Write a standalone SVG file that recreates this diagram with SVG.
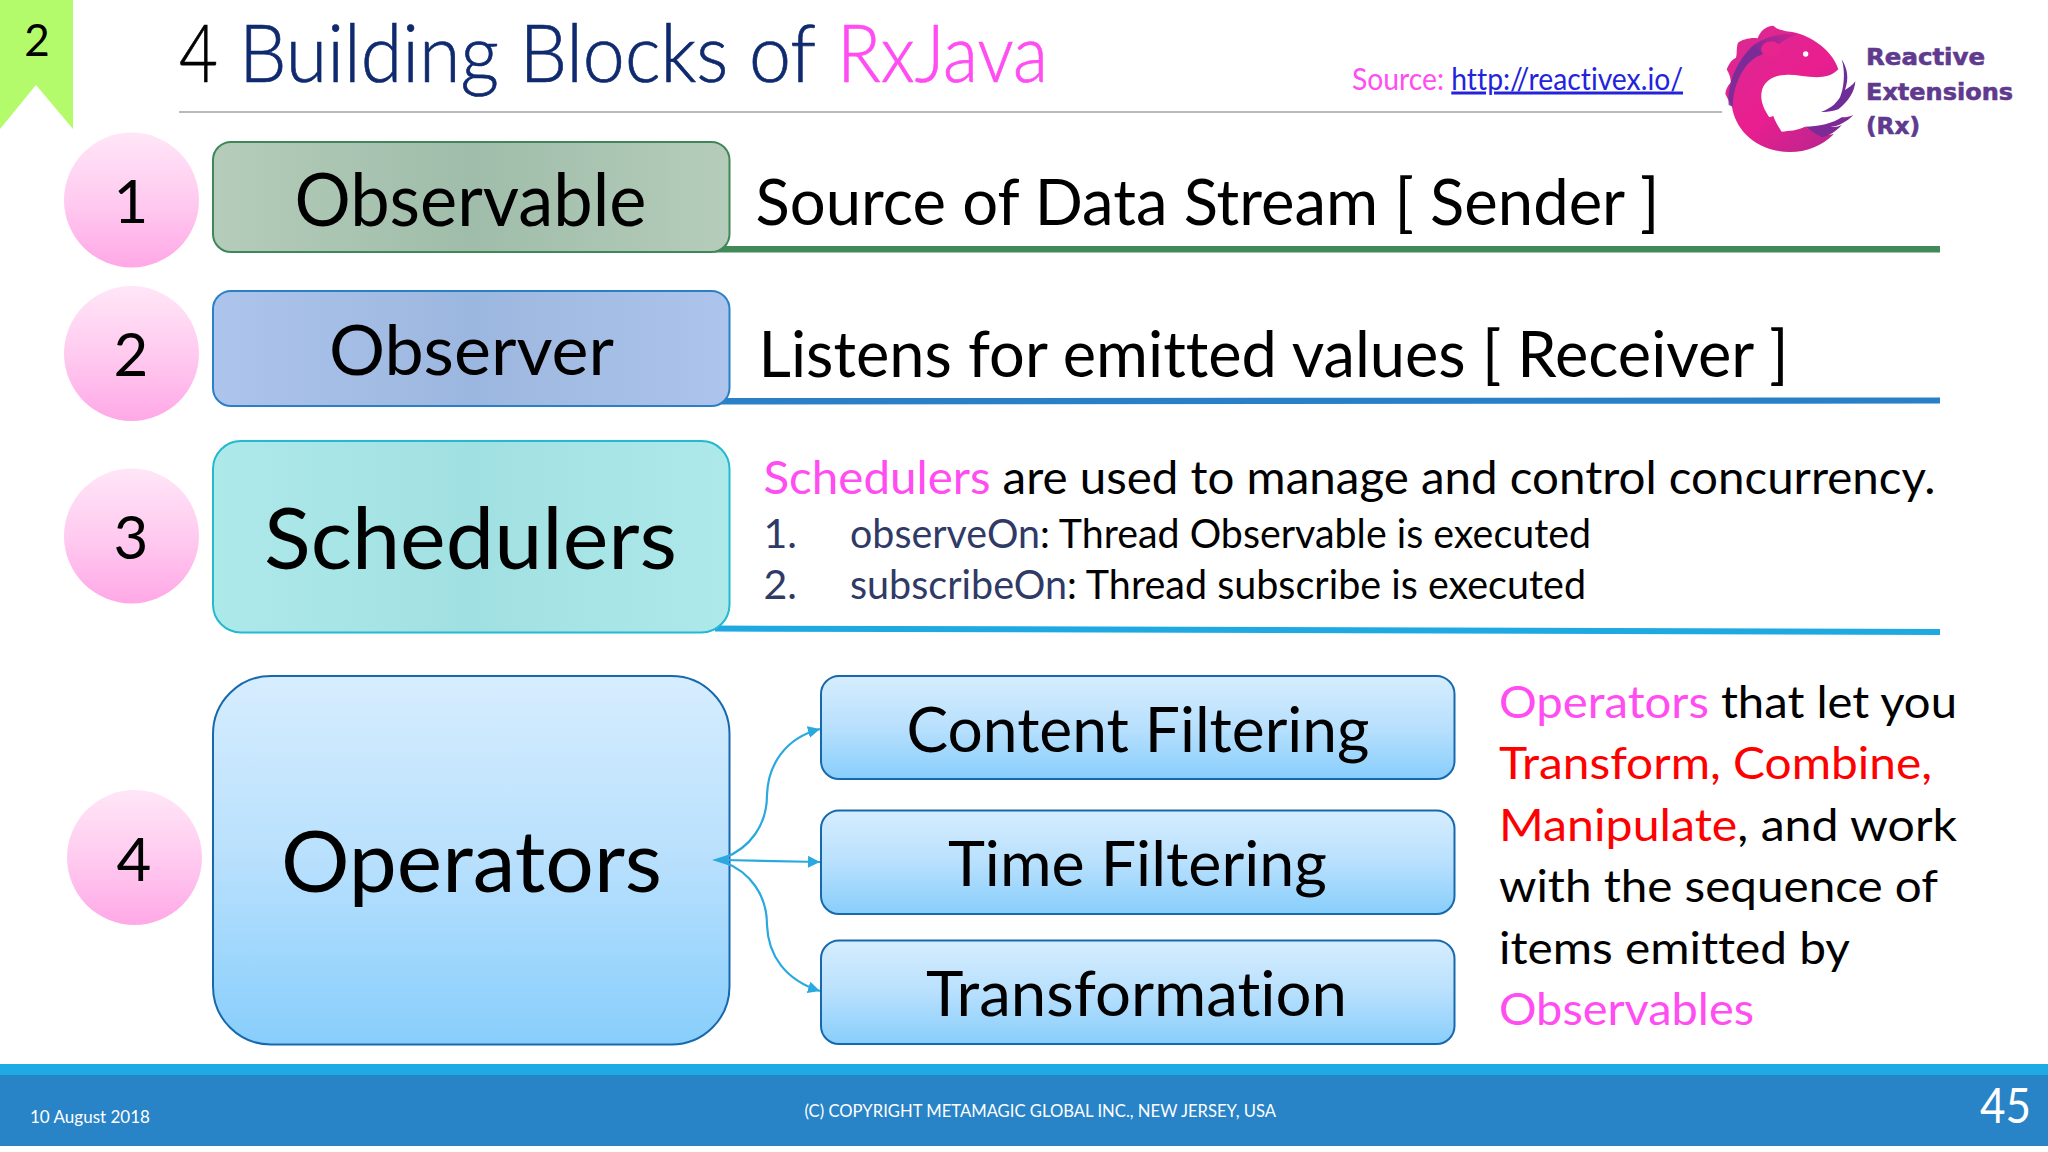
<svg xmlns="http://www.w3.org/2000/svg" width="2048" height="1152" viewBox="0 0 2048 1152">
<style>
text{font-family:"Lato","Noto Sans","Liberation Sans",sans-serif;fill:#000;font-variant-ligatures:none}
.c{text-anchor:middle}
.mg{fill:#ff4df2}
.rd{fill:#ff0000}
.nv{fill:#2f3a66}
.num{font-size:60px}
.lbl{font-size:64px}
.sub{font-size:44px}
.sm{font-size:41px}
.box{font-size:62px}
.rx{font-family:"DejaVu Sans",sans-serif;font-weight:bold;font-size:23px;fill:#5f3a8e;stroke:#5f3a8e;stroke-width:.6}
.conn{fill:none;stroke:#2aa8e0;stroke-width:2.2}
.circ{stroke:none}
</style>
<defs>
<linearGradient id="pk" x1="0" y1="0" x2="0" y2="1"><stop offset="0" stop-color="#ffe6f7"/><stop offset=".55" stop-color="#ffc8ef"/><stop offset="1" stop-color="#ffa8e6"/></linearGradient>
<linearGradient id="gr" x1="0" y1="0" x2="1" y2="0"><stop offset="0" stop-color="#b5ccba"/><stop offset=".5" stop-color="#9fbdaa"/><stop offset="1" stop-color="#b5ccba"/></linearGradient>
<linearGradient id="bl" x1="0" y1="0" x2="1" y2="0"><stop offset="0" stop-color="#adc4ec"/><stop offset=".5" stop-color="#9cb7df"/><stop offset="1" stop-color="#adc4ec"/></linearGradient>
<linearGradient id="te" x1="0" y1="0" x2="1" y2="0"><stop offset="0" stop-color="#aee9ea"/><stop offset=".5" stop-color="#a1e0e2"/><stop offset="1" stop-color="#aee9ea"/></linearGradient>
<linearGradient id="sk" x1="0" y1="0" x2="0" y2="1"><stop offset="0" stop-color="#d6edfe"/><stop offset=".5" stop-color="#b8e0fd"/><stop offset="1" stop-color="#88cefc"/></linearGradient>
<linearGradient id="rxg" gradientUnits="userSpaceOnUse" x1="60" y1="60" x2="380" y2="400"><stop offset="0" stop-color="#d92a93"/><stop offset=".55" stop-color="#ea1e8f"/><stop offset="1" stop-color="#b8258f"/></linearGradient>
<linearGradient id="rxp" gradientUnits="userSpaceOnUse" x1="60" y1="300" x2="260" y2="60"><stop offset="0" stop-color="#6f2d98" stop-opacity=".85"/><stop offset=".6" stop-color="#7a2b97"/><stop offset="1" stop-color="#c4218f" stop-opacity=".6"/></linearGradient>
<marker id="ah" viewBox="0 0 12 12" refX="12" refY="6" markerWidth="12" markerHeight="12" markerUnits="userSpaceOnUse" orient="auto"><path d="M0,0L12,6L0,12Z" fill="#2aa8e0"/></marker>
</defs>
<rect width="2048" height="1152" fill="#fff"/>

<g id="ribbon"><polygon points="0,0 73,0 73,129 36,85 0,129" fill="#b4fb6b"/><text class="c" x="37" y="56" font-size="44">2</text></g>

<g id="title"><text y="82" font-size="80" font-weight="300" stroke-width=".7"><tspan x="179" textLength="39" lengthAdjust="spacingAndGlyphs" stroke="#000">4</tspan><tspan x="239" textLength="577" lengthAdjust="spacingAndGlyphs" stroke="#0f2a6e" style="fill:#0f2a6e">Building Blocks of</tspan><tspan class="mg" x="837" textLength="211" lengthAdjust="spacingAndGlyphs" stroke="#ff4df2">RxJava</tspan></text>
<line x1="179" y1="112" x2="1722" y2="112" stroke="#a3a3a3" stroke-width="1.5"/></g>

<g id="source"><text x="1352" y="89.5" font-size="30" textLength="331" lengthAdjust="spacingAndGlyphs"><tspan class="mg">Source:</tspan> <tspan style="fill:#2323dc;text-decoration:underline">http://reactivex.io/</tspan></text></g>

<g id="logo"><g transform="translate(1710,10) scale(.33333)">
<path d="M385,178C370,130 325,92 270,72C235,62 210,66 190,47C170,47 150,62 143,85C120,82 95,90 84,98C78,115 82,130 78,143C62,150 56,165 50,178C58,192 63,205 62,218C52,228 47,240 46,252C52,265 60,278 66,290C75,355 135,425 240,426C290,426 335,408 372,372C345,378 315,368 285,350C262,362 238,362 215,365C205,350 196,335 190,318L178,322C160,295 150,270 155,245C160,215 190,195 225,195C270,190 345,222 385,178Z" fill="url(#rxg)"/>
<path d="M56,285C50,215 85,150 125,110C160,80 215,68 262,72C215,88 185,125 140,140C100,165 72,215 68,290Z" fill="url(#rxp)"/>
<ellipse cx="183" cy="118" rx="30" ry="24" fill="#e8248f"/>
<circle cx="287" cy="132" r="8" fill="#fff"/>
<path d="M395,148C412,175 418,205 405,240C415,235 428,225 436,214C434,245 415,275 385,298C365,305 350,307 333,306C360,296 375,285 390,262C400,240 408,190 395,148Z" fill="#6f2d98"/>
<path d="M430,315C410,335 385,350 362,350C375,352 385,350 395,345C378,365 355,378 335,382C318,372 300,360 285,350C325,350 370,340 395,322C410,322 420,320 430,315Z" fill="#7d2a97"/>
</g>
<text class="rx" x="1866" y="65" textLength="119" lengthAdjust="spacingAndGlyphs">Reactive</text>
<text class="rx" x="1866" y="99.5" textLength="147" lengthAdjust="spacingAndGlyphs">Extensions</text>
<text class="rx" x="1866" y="134" textLength="54" lengthAdjust="spacingAndGlyphs">(Rx)</text></g>

<g id="rules">
<polygon points="715,246 1940,246 1940,252.5 715,252.5" fill="#418a58"/>
<polygon points="715,398 1940,397.5 1940,403.5 715,404.5" fill="#2a80c6"/>
<polygon points="715,625.5 1940,629 1940,635 715,631.5" fill="#1fa9e2"/>
</g>

<g id="badge1"><circle class="circ" cx="131.5" cy="200" r="67.5" fill="url(#pk)"/><text class="c num" x="131" y="222.5">1</text></g>
<g id="badge2"><circle class="circ" cx="131.5" cy="353.5" r="67.5" fill="url(#pk)"/><text class="c num" x="131" y="376">2</text></g>
<g id="badge3"><circle class="circ" cx="131.5" cy="536" r="67.5" fill="url(#pk)"/><text class="c num" x="131" y="559">3</text></g>
<g id="badge4"><circle class="circ" cx="134.5" cy="857.5" r="67.5" fill="url(#pk)"/><text class="c num" x="134" y="880.5">4</text></g>

<g id="observable"><rect x="213" y="142" width="516.5" height="110" rx="18" fill="url(#gr)" stroke="#3f8758" stroke-width="2"/><text x="294.5" y="225.5" font-size="73" textLength="352" lengthAdjust="spacingAndGlyphs">Observable</text></g>
<g id="observable-desc"><text class="lbl" x="755.5" y="224.5" textLength="904" lengthAdjust="spacingAndGlyphs">Source of Data Stream [ Sender ]</text></g>

<g id="observer"><rect x="213" y="291" width="516.5" height="115" rx="18" fill="url(#bl)" stroke="#2a80c6" stroke-width="2"/><text x="329" y="375" font-size="70" textLength="285" lengthAdjust="spacingAndGlyphs">Observer</text></g>
<g id="observer-desc"><text class="lbl" x="758.5" y="376.5" textLength="1030" lengthAdjust="spacingAndGlyphs">Listens for emitted values [ Receiver ]</text></g>

<g id="schedulers"><rect x="213" y="441" width="516.5" height="191.5" rx="28" fill="url(#te)" stroke="#24b9cf" stroke-width="2"/><text x="264" y="569" font-size="85" textLength="413" lengthAdjust="spacingAndGlyphs">Schedulers</text></g>
<g id="schedulers-desc">
<text x="763.5" y="494" font-size="46" textLength="1172" lengthAdjust="spacingAndGlyphs"><tspan class="mg">Schedulers</tspan> are used to manage and control concurrency.</text>
<text class="sm nv" x="763.5" y="548">1.</text>
<text class="sm" x="850" y="548" textLength="741" lengthAdjust="spacingAndGlyphs"><tspan class="nv">observeOn</tspan>: Thread Observable is executed</text>
<text class="sm nv" x="763.5" y="598.5">2.</text>
<text class="sm" x="850" y="598.5" textLength="736" lengthAdjust="spacingAndGlyphs"><tspan class="nv">subscribeOn</tspan>: Thread subscribe is executed</text>
</g>

<g id="operators"><rect x="213" y="676" width="516.5" height="368.5" rx="58" fill="url(#sk)" stroke="#1769ad" stroke-width="2"/><text x="281" y="892" font-size="86" textLength="381" lengthAdjust="spacingAndGlyphs">Operators</text></g>

<g id="connectors">
<path class="conn" d="M724,858C750,848 767,825 767,795C768,765 785,738 820,729" marker-end="url(#ah)"/>
<path class="conn" d="M724,860L820,862" marker-end="url(#ah)"/>
<path class="conn" d="M724,862C750,872 767,895 767,925C768,955 785,980 820,991" marker-end="url(#ah)"/>
<path d="M712,860L731,854L727,860L731,866Z" fill="#2aa8e0"/>
</g>

<g id="content-filtering"><rect x="821" y="676" width="633.5" height="103" rx="18" fill="url(#sk)" stroke="#1769ad" stroke-width="2"/><text class="box" x="906.5" y="751.5" textLength="463" lengthAdjust="spacingAndGlyphs">Content Filtering</text></g>
<g id="time-filtering"><rect x="821" y="810.5" width="633.5" height="103.5" rx="18" fill="url(#sk)" stroke="#1769ad" stroke-width="2"/><text class="box" x="948" y="886" textLength="379" lengthAdjust="spacingAndGlyphs">Time Filtering</text></g>
<g id="transformation"><rect x="821" y="940.5" width="633.5" height="103.5" rx="18" fill="url(#sk)" stroke="#1769ad" stroke-width="2"/><text class="box" x="926" y="1016" textLength="421" lengthAdjust="spacingAndGlyphs">Transformation</text></g>

<g id="operators-desc">
<text class="sub" x="1499" y="717.5" textLength="458" lengthAdjust="spacingAndGlyphs"><tspan class="mg">Operators</tspan> that let you</text>
<text class="sub rd" x="1499" y="779" textLength="433" lengthAdjust="spacingAndGlyphs">Transform, Combine,</text>
<text class="sub" x="1499" y="840.5" textLength="458" lengthAdjust="spacingAndGlyphs"><tspan class="rd">Manipulate</tspan>, and work</text>
<text class="sub" x="1499" y="901.5" textLength="439" lengthAdjust="spacingAndGlyphs">with the sequence of</text>
<text class="sub" x="1499" y="963.5" textLength="351" lengthAdjust="spacingAndGlyphs">items emitted by</text>
<text class="sub mg" x="1499" y="1025" textLength="255" lengthAdjust="spacingAndGlyphs">Observables</text>
</g>

<g id="footer">
<rect x="0" y="1064" width="2048" height="11" fill="#1eaae4"/>
<rect x="0" y="1075" width="2048" height="71" fill="#2883c7"/>
<text style="fill:#fff" x="30" y="1122.5" font-size="17.5" textLength="120" lengthAdjust="spacingAndGlyphs">10 August 2018</text>
<text style="fill:#fff" x="804.5" y="1116.5" font-size="17.5" textLength="471.5" lengthAdjust="spacingAndGlyphs">(C) COPYRIGHT METAMAGIC GLOBAL INC., NEW JERSEY, USA</text>
<text style="fill:#fff" x="1980" y="1123" font-size="48" textLength="51" lengthAdjust="spacingAndGlyphs">45</text>
</g>
</svg>
